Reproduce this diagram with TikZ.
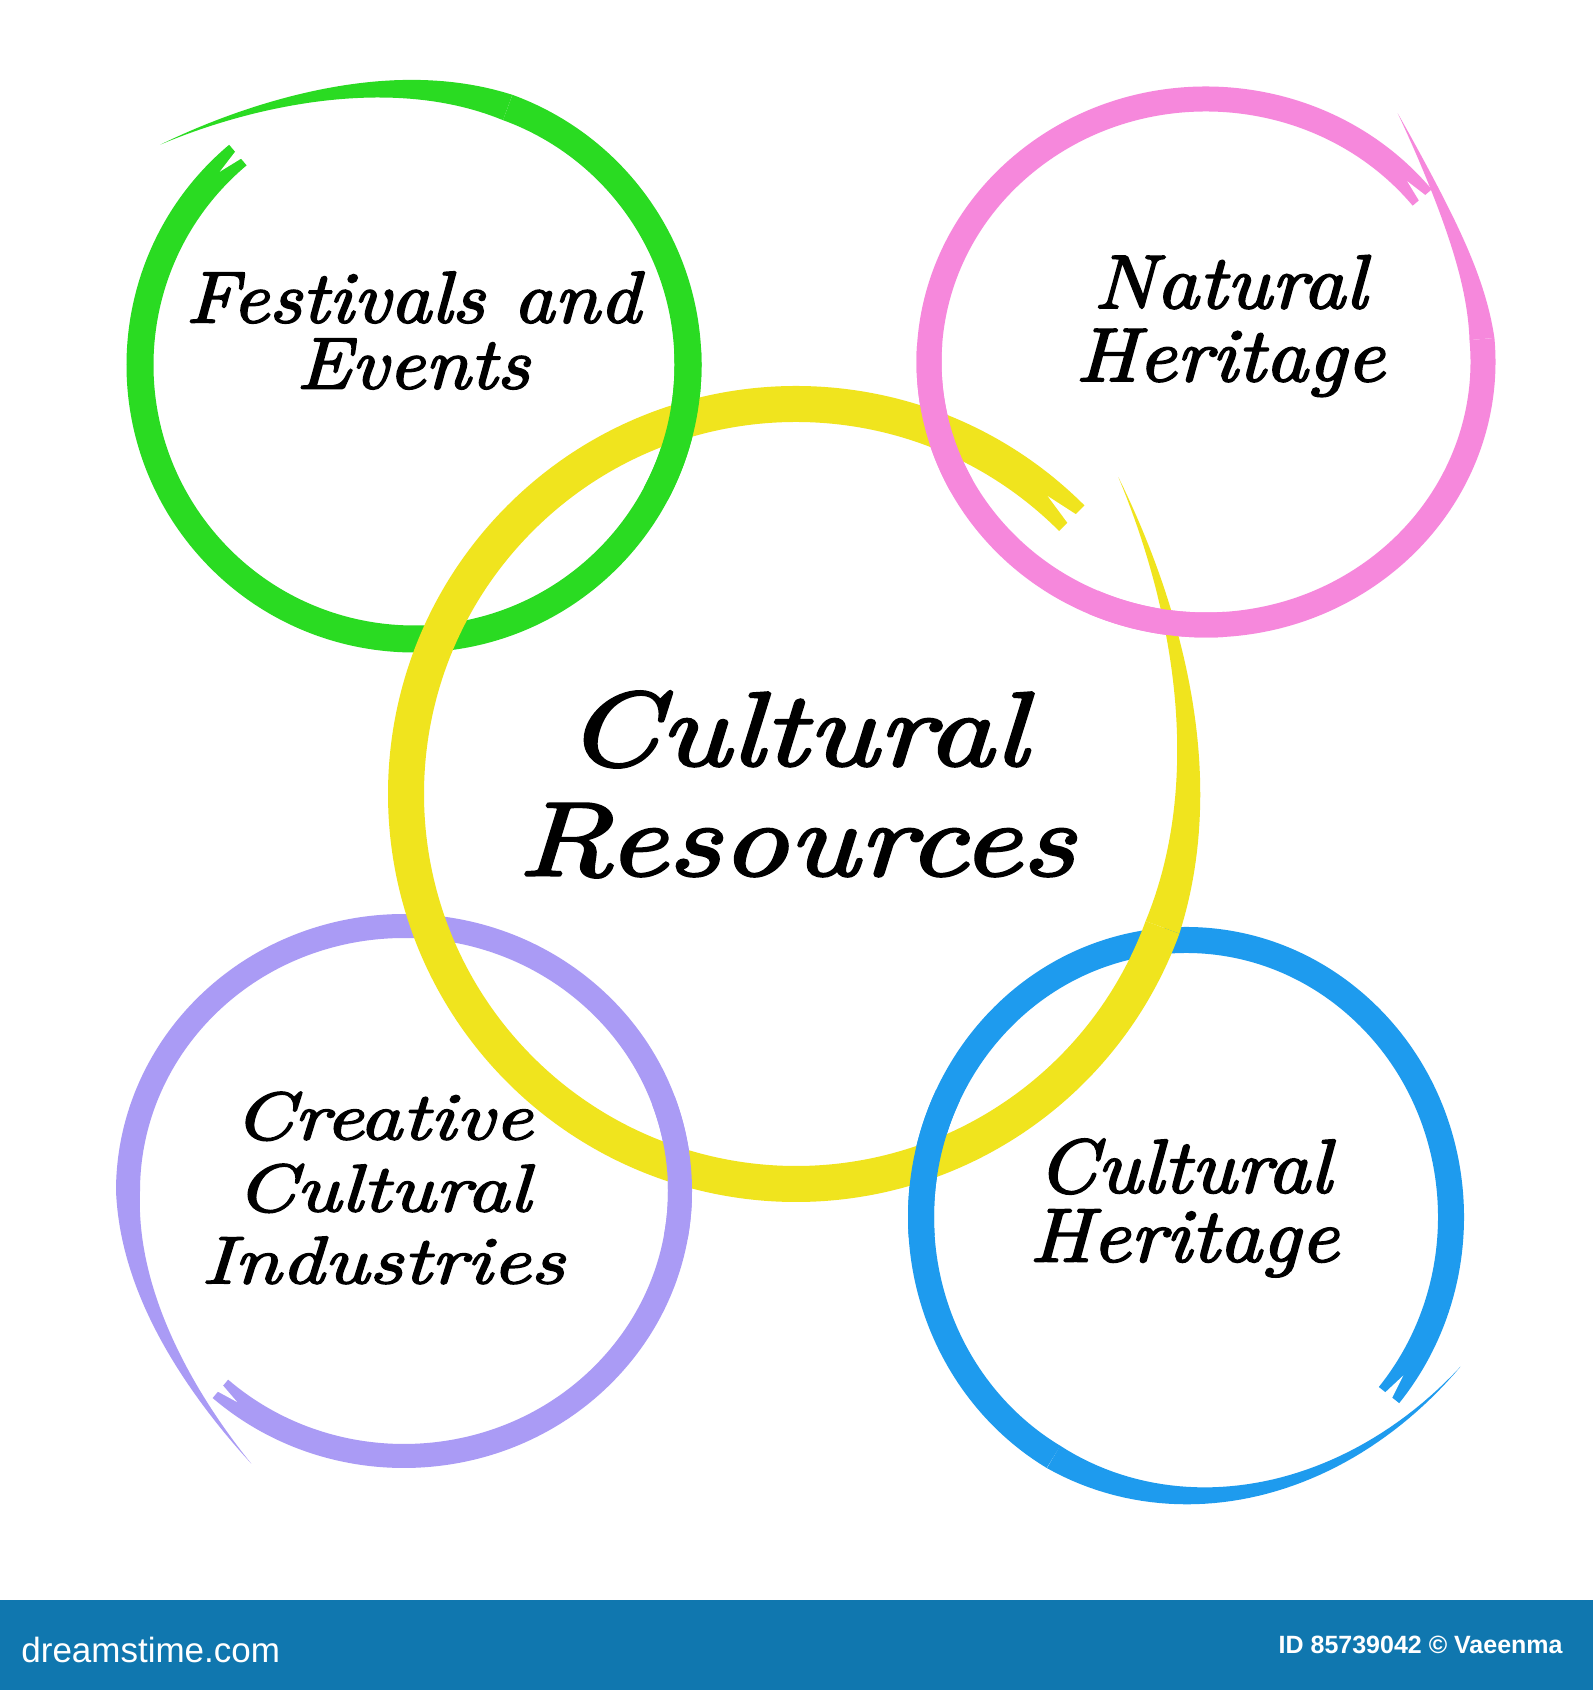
\documentclass[tikz,border=0pt]{standalone}
\usepackage{fontspec}
\newfontfamily\handfont{lmroman10-italic}[Extension=.otf,FakeStretch=1.1,FakeBold=2.5]
\newfontfamily\widehandfont{lmroman10-italic}[Extension=.otf,FakeStretch=1.25,FakeBold=2.5]
\newfontfamily\barfont{Liberation Sans}
\definecolor{ringgreen}{RGB}{42,219,34}
\definecolor{ringpink}{RGB}{246,136,220}
\definecolor{ringyellow}{RGB}{240,228,30}
\definecolor{ringpurple}{RGB}{170,155,245}
\definecolor{ringblue}{RGB}{30,155,238}
\definecolor{barblue}{RGB}{16,119,175}
% thick part of a brush ring: colour, centre x, centre y, x radius, y radius, width, from, to
\newcommand{\ringarc}[8]{%
  \draw[#1,line width=#6*0.5pt] ({#2+#4*cos(#7)},{#3+#5*sin(#7)})
    arc[start angle=#7,end angle=#8,x radius=#4,y radius=#5];}
% thin end of a brush ring, drifting outwards: same, plus drift
\newcommand{\ringtail}[9]{%
  \fill[#1] plot[domain=0:1,samples=50]
    ({#2+(#4+#9*\x*\x*\x+#6/2*(1-\x))*cos(#7+\x*((#8)-(#7)))},
     {#3+(#5+#9*\x*\x*\x+#6/2*(1-\x))*sin(#7+\x*((#8)-(#7)))})
    -- plot[domain=1:0,samples=50]
    ({#2+(#4+#9*\x*\x*\x-#6/2*(1-\x))*cos(#7+\x*((#8)-(#7)))},
     {#3+(#5+#9*\x*\x*\x-#6/2*(1-\x))*sin(#7+\x*((#8)-(#7)))}) -- cycle;}
% split brush end: centre x, centre y, x radius, y radius, width, angle
\newcommand{\ringnotch}[6]{%
  \fill[white] ({#1+(#3+#5*0.2)*cos(#6-1)},{#2+(#4+#5*0.2)*sin(#6-1)})
    -- ({#1+#3*cos(#6+#5*52/#3)},{#2+#4*sin(#6+#5*52/#3)})
    -- ({#1+(#3-#5*0.2)*cos(#6-1)},{#2+(#4-#5*0.2)*sin(#6-1)}) -- cycle;}
\begin{document}
\begin{tikzpicture}[x=0.5pt,y=0.5pt,
    ringtext/.style={inner sep=0pt,align=center,text=black}]
  \useasboundingbox (0,0) rectangle (1593,1690);
  \fill[white] (0,0) rectangle (1593,1690);
  % footer bar
  \fill[barblue] (0,0) rectangle (1593,90);
  \node[anchor=base west,inner sep=0pt,text=white,font=\barfont\fontsize{17.5}{20}\selectfont] (site) at (21,27) {dreamstime.com};
  \node[anchor=base east,inner sep=0pt,text=white,font=\barfont\bfseries\fontsize{12.5}{15}\selectfont] (imgid) at (1563,36) {ID 85739042 © Vaeenma};
  % outer rings
  \ringarc{ringgreen}{414}{1325}{274}{274}{27}{130}{430}
  \ringtail{ringgreen}{414}{1325}{274}{274}{27}{430}{499}{62}
  \ringnotch{414}{1325}{274}{274}{27}{130}
  \ringarc{ringpink}{1206}{1328}{277}{263}{25}{38.7}{365}
  \ringtail{ringpink}{1206}{1328}{277}{263}{25}{365}{413.6}{46}
  \ringnotch{1206}{1328}{277}{263}{25}{38.7}
  \ringarc{ringpurple}{404}{499}{276}{265}{24}{228.3}{540}
  \ringtail{ringpurple}{404}{499}{276}{265}{24}{540}{601.6}{45}
  \ringnotch{404}{499}{276}{265}{24}{228.3}
  \ringarc{ringblue}{1186}{473}{265}{277}{26}{-40}{240}
  \ringtail{ringblue}{1186}{473}{265}{277}{26}{240}{332.3}{45}
  \ringnotch{1186}{473}{265}{277}{26}{-40}
  % centre ring
  \ringarc{ringyellow}{796}{896}{390}{390}{36}{45}{340}
  \ringtail{ringyellow}{796}{896}{390}{390}{36}{340}{404.5}{62}
  \ringnotch{796}{896}{390}{390}{36}{45}
  % crossings where the outer ring lies on top
  \ringarc{ringgreen}{414}{1325}{274}{274}{27}{-28}{3}
  \ringarc{ringpink}{1206}{1328}{277}{263}{25}{176}{208}
  \ringarc{ringpink}{1206}{1328}{277}{263}{25}{246}{274}
  \ringarc{ringpurple}{404}{499}{276}{265}{24}{350}{380}
  \ringarc{ringblue}{1186}{473}{265}{277}{26}{154}{184}
  % texts
  \node[ringtext,font=\handfont\fontsize{36.5}{33}\selectfont] (fest) at (413,1359.5) {Festivals and\\Events};
  \node[ringtext,font=\handfont\fontsize{38}{36.5}\selectfont] (nat) at (1230,1364) {Natural\\Heritage};
  \node[ringtext,font=\widehandfont\fontsize{52.5}{55}\selectfont] (core) at (796,905.5) {Cultural\\Resources};
  \node[ringtext,font=\widehandfont\fontsize{33.5}{36}\selectfont] (creat) at (383,502) {Creative\\Cultural\\Industries};
  \node[ringtext,font=\handfont\fontsize{38}{34.5}\selectfont] (cult) at (1184,482) {Cultural\\Heritage};
\end{tikzpicture}
\end{document}
